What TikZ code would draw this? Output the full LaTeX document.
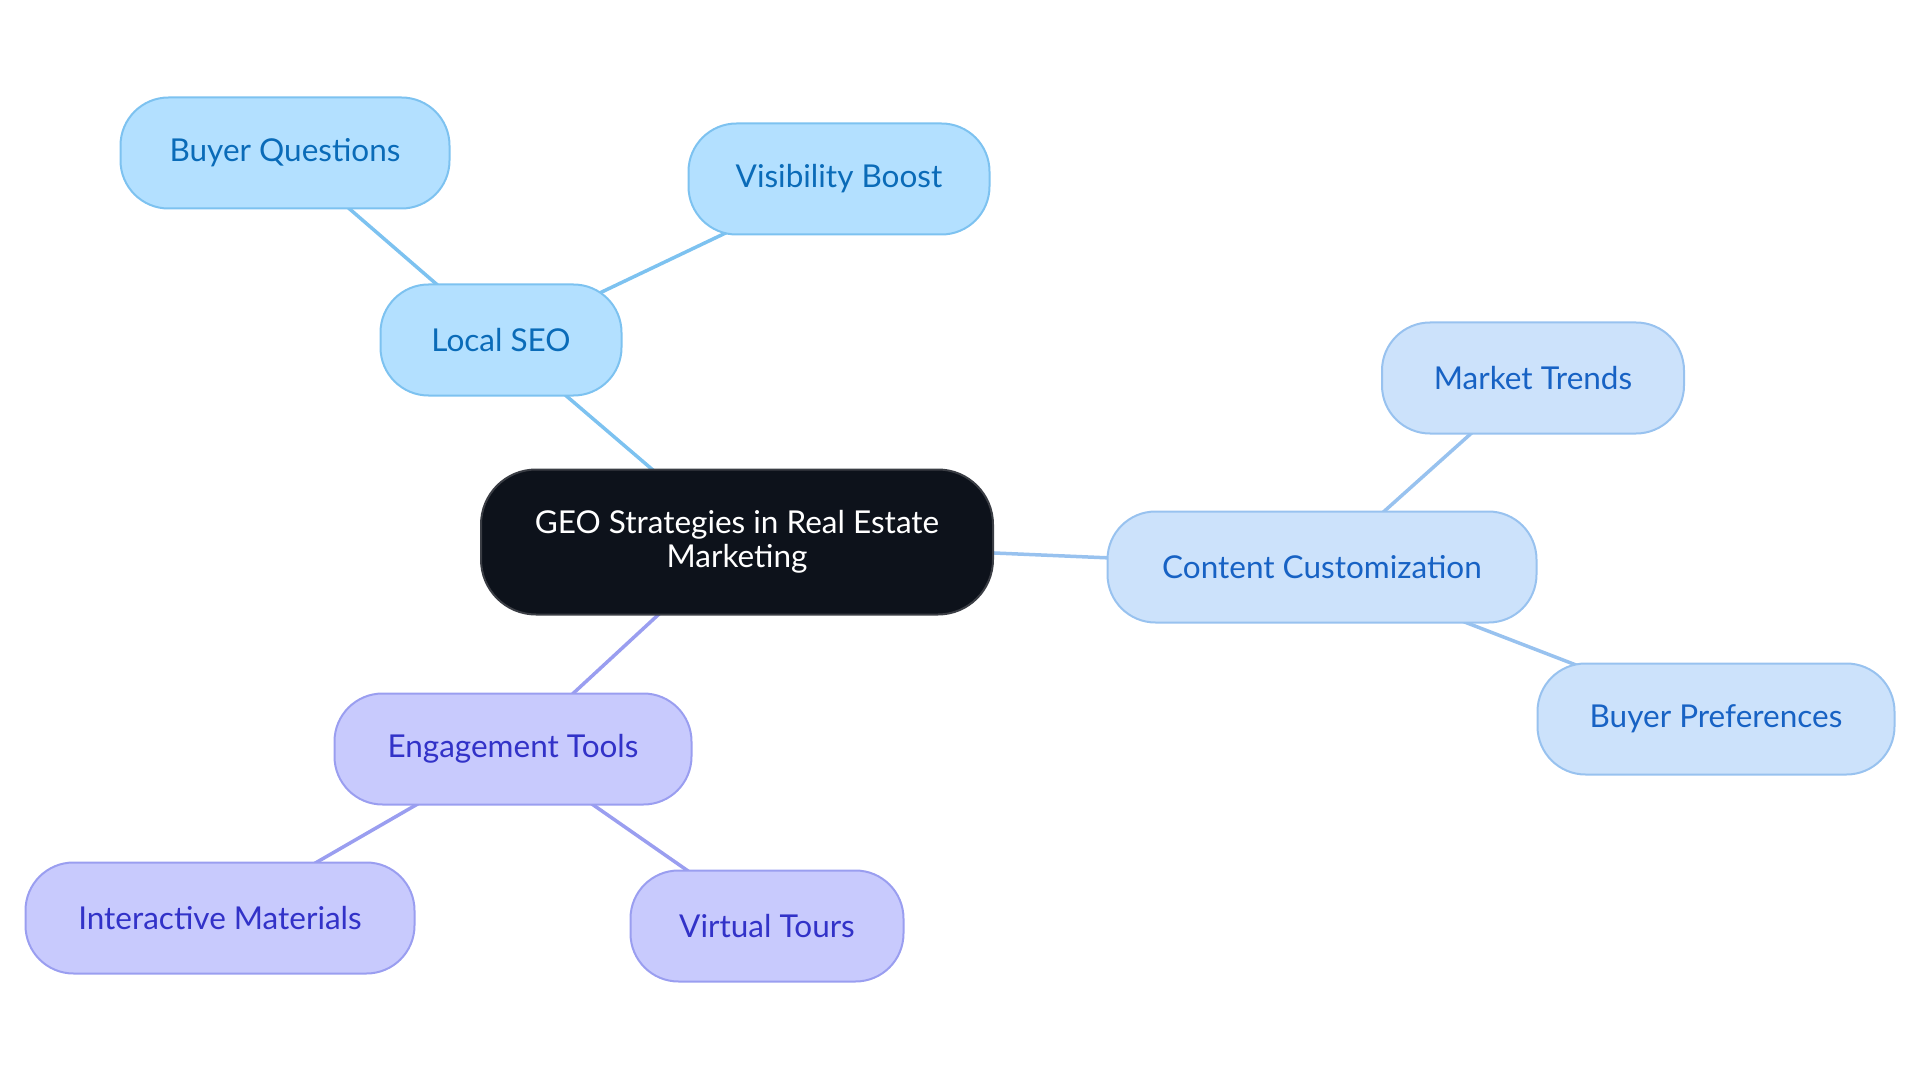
\documentclass[tikz,border=0pt]{standalone}
\usepackage{fontspec}
\usetikzlibrary{backgrounds}
\setmainfont{Lato}
\definecolor{rootfill}{HTML}{0D121B}
\definecolor{rootdraw}{HTML}{3A3D44}
\definecolor{afill}{HTML}{B3E0FF}
\definecolor{adraw}{HTML}{7DC2F0}
\definecolor{atext}{HTML}{0A6BB8}
\definecolor{bfill}{HTML}{CCE2FB}
\definecolor{bdraw}{HTML}{98C2EF}
\definecolor{btext}{HTML}{1762C4}
\definecolor{cfill}{HTML}{C8CAFD}
\definecolor{cdraw}{HTML}{9A9EF0}
\definecolor{ctext}{HTML}{3232C8}
\tikzset{
  pill/.style={rounded corners=48pt, line width=2pt, minimum height=111pt, inner sep=0pt, align=center, font=\fontsize{31.5}{34}\selectfont},
  rootbox/.style={pill, fill=rootfill, draw=rootdraw, text=white, minimum height=145pt, rounded corners=55pt},
  abox/.style={pill, fill=afill, draw=adraw, text=atext},
  bbox/.style={pill, fill=bfill, draw=bdraw, text=btext},
  cbox/.style={pill, fill=cfill, draw=cdraw, text=ctext},
  aline/.style={draw=adraw, line width=3.5pt},
  bline/.style={draw=bdraw, line width=3.5pt},
  cline/.style={draw=cdraw, line width=3.5pt},
}
\begin{document}
\begin{tikzpicture}[x=1pt,y=-1pt]
\useasboundingbox (0,0) rectangle (1920,1083);
\node[rootbox, minimum width=512pt] (root) at (737,542) {GEO Strategies in Real Estate\\Marketing};
\node[abox, minimum width=241pt] (seo) at (501,340) {Local SEO};
\node[abox, minimum width=329pt] (bq) at (285,153) {Buyer Questions};
\node[abox, minimum width=301pt] (vb) at (839,179) {Visibility Boost};
\node[bbox, minimum width=429pt] (cc) at (1322,567) {Content Customization};
\node[bbox, minimum width=302pt] (mt) at (1533,378) {Market Trends};
\node[bbox, minimum width=357pt] (bp) at (1716,719) {Buyer Preferences};
\node[cbox, minimum width=357pt] (et) at (513,749) {Engagement Tools};
\node[cbox, minimum width=389pt] (im) at (220,918) {Interactive Materials};
\node[cbox, minimum width=273pt] (vt) at (767,926) {Virtual Tours};
\begin{scope}[on background layer]
\draw[aline] (root.center) -- (seo.center);
\draw[aline] (seo.center) -- (bq.center);
\draw[aline] (seo.center) -- (vb.center);
\draw[bline] (root.center) -- (cc.center);
\draw[bline] (cc.center) -- (mt.center);
\draw[bline] (cc.center) -- (bp.center);
\draw[cline] (root.center) -- (et.center);
\draw[cline] (et.center) -- (im.center);
\draw[cline] (et.center) -- (vt.center);
\end{scope}
\end{tikzpicture}
\end{document}
